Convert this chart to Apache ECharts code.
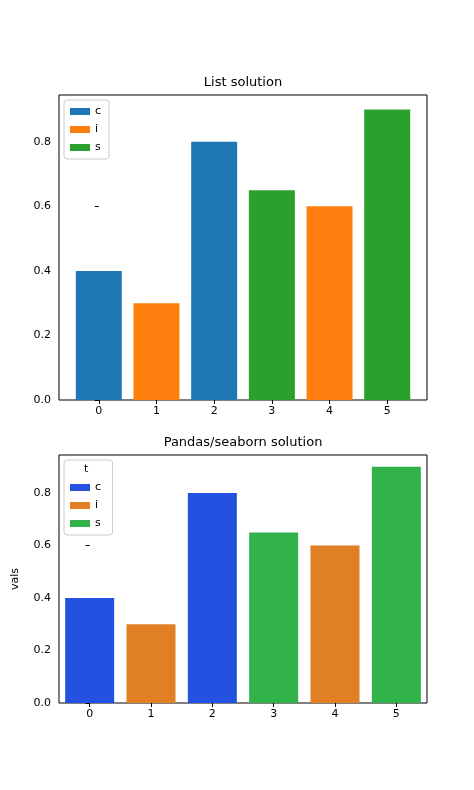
<!DOCTYPE html><html><head><meta charset="utf-8">
<script src="https://cdn.jsdelivr.net/npm/echarts@6/dist/echarts.min.js"></script>
<style>html,body{margin:0;background:#fff}#c{width:474px;height:790px}</style></head><body><div id="c"></div>
<script>
const positions=[0,1,2,3,4,5];
const vals=[0.4,0.3,0.8,0.65,0.6,0.9];
const groups=['c','i','c','s','i','s'];
const groupNames=['c','i','s'];
const yTicks=[0,0.2,0.4,0.6,0.8];
const colorsTop={c:'#1f77b4',i:'#ff7f0e',s:'#2ca02c'};
const colorsBot={c:'#2351e0',i:'#e07f23',s:'#32b34a'};
const F='DejaVu Sans';
function axes(gi,xmin,xmax){
  return {
    x:{type:'value',gridIndex:gi,min:xmin,max:xmax,interval:1,
      axisLine:{show:false},axisTick:{show:true,length:4,lineStyle:{color:'#000'},customValues:positions},
      axisLabel:{color:'#000',fontFamily:F,fontSize:11,customValues:positions,margin:6},splitLine:{show:false}},
    y:{type:'value',gridIndex:gi,min:0,max:0.945,
      axisLine:{show:false},axisTick:{show:true,length:4,lineStyle:{color:'#000'},customValues:yTicks},
      axisLabel:{color:'#000',fontFamily:F,fontSize:11,customValues:yTicks,formatter:v=>v.toFixed(1)},splitLine:{show:false}}
  };
}
const a0=axes(0,-0.69,5.69), a1=axes(1,-0.5,5.5);
a1.y.name='vals';a1.y.nameLocation='middle';a1.y.nameGap=38;a1.y.nameTextStyle={color:'#000',fontFamily:F,fontSize:11};
const series=[];
groupNames.forEach(g=>{
  const d=positions.map((p,i)=>groups[i]===g?[p,vals[i]]:null).filter(Boolean);
  series.push({type:'bar',name:g,xAxisIndex:0,yAxisIndex:0,data:d,barWidth:46,barGap:'-100%',itemStyle:{color:colorsTop[g]}});
  series.push({type:'bar',name:g+' ',xAxisIndex:1,yAxisIndex:1,data:d,barWidth:49,barGap:'-100%',itemStyle:{color:colorsBot[g]}});
});
const legendBase={orient:'vertical',itemWidth:20,itemHeight:7,itemGap:7,icon:'rect',
  textStyle:{fontFamily:F,fontSize:11,color:'#000'},borderColor:'#ccc',borderWidth:1,borderRadius:3,backgroundColor:'#fff',padding:[6,8,6,6]};
const chart=echarts.init(document.getElementById('c'));
chart.setOption({
  animation:false,
  title:[{text:'List solution',left:'center',top:76,textStyle:{fontFamily:F,fontSize:13,fontWeight:'normal',color:'#000'},padding:0,left:243,textAlign:'center'},
         {text:'Pandas/seaborn solution',top:436,left:243,textAlign:'center',padding:0,textStyle:{fontFamily:F,fontSize:13,fontWeight:'normal',color:'#000'}}],
  grid:[{left:59,top:95,width:368,height:305,show:true,borderColor:'#000',borderWidth:1},
        {left:59,top:455,width:368,height:248,show:true,borderColor:'#000',borderWidth:1}],
  xAxis:[a0.x,a1.x],yAxis:[a0.y,a1.y],
  legend:[Object.assign({},legendBase,{left:64,top:100,data:['c','i','s']}),
          Object.assign({},legendBase,{left:64,top:460,padding:[22,8,6,6],data:['c ','i ','s ']})],
  graphic:[{type:'text',left:84,top:464,z:100,style:{text:'t',font:'11px DejaVu Sans',fill:'#000'}}],
  series
});
</script></body></html>
